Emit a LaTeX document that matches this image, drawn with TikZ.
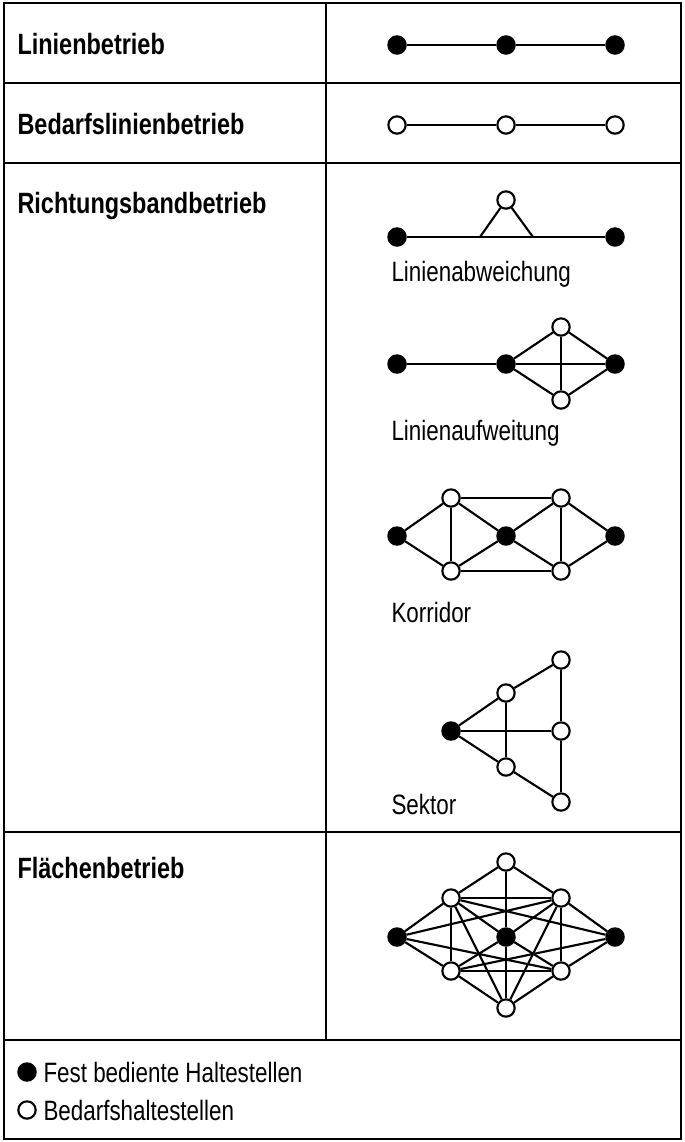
\documentclass[tikz,border=0pt]{standalone}
\usepackage{fontspec}
\setmainfont{Liberation Sans}[FakeStretch=0.8]
\begin{document}
\begin{tikzpicture}[x=0.75pt,y=-0.75pt,line width=1.6pt,
  fs/.style={circle,draw,fill=black,minimum size=13pt,inner sep=0pt},
  bs/.style={circle,draw,fill=white,minimum size=13pt,inner sep=0pt},
  hd/.style={anchor=west,font=\fontsize{22pt}{26pt}\selectfont\bfseries},
  sub/.style={anchor=west,font=\fontsize{21pt}{25pt}\selectfont},
  lg/.style={anchor=west,font=\fontsize{21pt}{25pt}\selectfont}]
\useasboundingbox (0,0) rectangle (685,1142);
\draw (4,3) rectangle (681,1139);
\draw (326,3) -- (326,1040);
\foreach \y in {83,163,832,1040} \draw (4,\y) -- (681,\y);
\node[hd] (h1) at (12,44) {Linienbetrieb};
\node[hd] (h2) at (12,124) {Bedarfslinienbetrieb};
\node[hd] (h3) at (12,206) {Richtungsbandbetrieb};
\node[hd] (h4) at (12,868) {Flächenbetrieb};
% Linienbetrieb
\node[fs] (a1) at (397,45) {}; \node[fs] (a2) at (506,45) {}; \node[fs] (a3) at (615,45) {};
\draw (a1)--(a2)--(a3);
% Bedarfslinien
\node[bs] (b1) at (397,125) {}; \node[bs] (b2) at (506,125) {}; \node[bs] (b3) at (615,125) {};
\draw (b1)--(b2)--(b3);
% Linienabweichung
\node[fs] (c1) at (397,237) {}; \node[fs] (c3) at (615,237) {}; \node[bs] (c2) at (506,200) {};
\coordinate (c4) at (480,237); \coordinate (c5) at (533,237);
\draw (c1)--(c3); \draw (c4)--(c2)--(c5);
\node[sub] (s1) at (386,274) {Linienabweichung};
% Linienaufweitung
\node[fs] (d1) at (397,364) {}; \node[fs] (d2) at (506,364) {}; \node[fs] (d5) at (615,364) {};
\node[bs] (d3) at (561,327) {}; \node[bs] (d4) at (561,400) {};
\draw (d1)--(d2)--(d5); \draw (d2)--(d3)--(d5)--(d4)--(d2); \draw (d3)--(d4);
\node[sub] (s2) at (386,433) {Linienaufweitung};
% Korridor
\node[fs] (e1) at (397,536) {}; \node[fs] (e4) at (506,536) {}; \node[fs] (e7) at (615,536) {};
\node[bs] (e2) at (451,498) {}; \node[bs] (e3) at (451,571) {};
\node[bs] (e5) at (561,498) {}; \node[bs] (e6) at (561,571) {};
\draw (e1)--(e2)--(e4)--(e3)--(e1); \draw (e4)--(e5)--(e7)--(e6)--(e4);
\draw (e2)--(e3); \draw (e5)--(e6); \draw (e2)--(e5); \draw (e3)--(e6);
\node[sub] (s3) at (386,612) {Korridor};
% Sektor
\node[fs] (f1) at (451,731) {};
\node[bs] (f2) at (506,693) {}; \node[bs] (f3) at (561,660) {};
\node[bs] (f4) at (561,731) {}; \node[bs] (f5) at (506,767) {}; \node[bs] (f6) at (561,802) {};
\draw (f1)--(f2)--(f3); \draw (f1)--(f4); \draw (f1)--(f5)--(f6);
\draw (f2)--(f5); \draw (f3)--(f4)--(f6);
\node[sub] (s4) at (386,804) {Sektor};
% Flaechenbetrieb
\node[fs] (gL) at (397,937) {}; \node[fs] (gC) at (506,937) {}; \node[fs] (gR) at (615,937) {};
\node[bs] (gT) at (506,862) {}; \node[bs] (gB) at (506,1008) {};
\node[bs] (g1) at (451,898) {}; \node[bs] (g2) at (561,898) {};
\node[bs] (g3) at (451,971) {}; \node[bs] (g4) at (561,971) {};
\foreach \a/\b in {gL/g1,gL/g3,gL/g2,gL/g4,gR/g2,gR/g4,gR/g1,gR/g3,gT/g1,gT/g2,gT/gC,gC/gB,
  g1/g2,g3/g4,g1/g3,g2/g4,g1/gC,gC/g4,g2/gC,gC/g3,g1/gB,g2/gB,g3/gB,g4/gB}
  \draw (\a)--(\b);
% legend
\node[fs] (l1) at (27,1072) {}; \node[lg] (lt1) at (38,1072) {Fest bediente Haltestellen};
\node[bs] (l2) at (27,1110) {}; \node[lg] (lt2) at (38,1110) {Bedarfshaltestellen};
\end{tikzpicture}
\end{document}
